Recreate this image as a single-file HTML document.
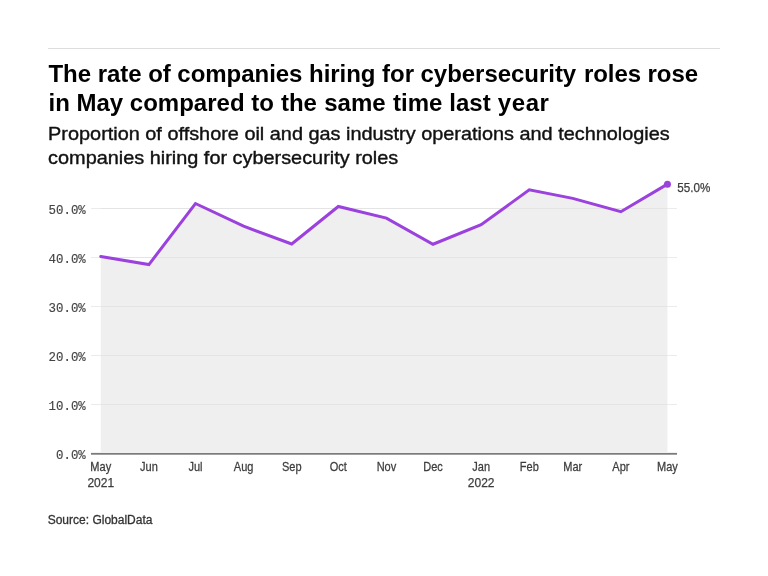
<!DOCTYPE html>
<html><head><meta charset="utf-8"><title>Chart</title>
<style>
html,body{margin:0;padding:0;background:#fff;}
svg{display:block;will-change:transform;}
text{font-family:"Liberation Sans",sans-serif;}
.title{font-weight:bold;font-size:24px;fill:#000;}
.sub{font-size:18px;fill:#111;stroke:#111;stroke-width:0.38px;}
.mono{font-family:"Liberation Mono",monospace;font-size:12.4px;fill:#444;stroke:#444;stroke-width:0.15px;}
.tick{font-size:12px;fill:#3d3d3d;stroke:#3d3d3d;stroke-width:0.25px;}
.src{font-size:12px;fill:#333;stroke:#333;stroke-width:0.3px;}
</style></head><body>
<svg width="768" height="576" viewBox="0 0 768 576">
<rect width="768" height="576" fill="#fff"/>
<rect x="48" y="48" width="672" height="1" fill="#dddddd"/>
<text x="48.5" y="82.3" class="title" style="letter-spacing:-0.04px">The rate of companies hiring for cybersecurity <tspan dx="1.2">roles</tspan> <tspan dx="-0.3">rose</tspan></text>
<text x="48.5" y="111.3" class="title">in May compared to <tspan dx="0.4">the</tspan> <tspan dx="0.6">same</tspan> <tspan dx="0.8">time</tspan> <tspan dx="0.2">last</tspan> <tspan dx="0.4" style="letter-spacing:0.6px">year</tspan></text>
<text transform="translate(48.1,139.8) scale(1.105,1)" class="sub">Proportion of offshore oil and gas industry operations and technologies</text>
<text transform="translate(48.1,164.4) scale(1.105,1)" class="sub">companies hiring for cybersecurity roles</text>
<rect x="91" y="208" width="586" height="1" fill="#ebebeb"/><rect x="91" y="257" width="586" height="1" fill="#ebebeb"/><rect x="91" y="306" width="586" height="1" fill="#ebebeb"/><rect x="91" y="355" width="586" height="1" fill="#ebebeb"/><rect x="91" y="404" width="586" height="1" fill="#ebebeb"/>
<path d="M100.75,452 L100.75,256.40 L148.88,264.60 L195.46,203.50 L243.59,226.20 L291.72,244.00 L338.30,206.50 L386.43,218.10 L433.01,244.25 L481.14,224.60 L529.27,189.90 L572.74,198.40 L620.87,211.75 L667.45,184.15 L667.45,452 Z" fill="#efefef"/>
<rect x="100.75" y="208" width="566.70" height="1" fill="#e4e4e4"/><rect x="100.75" y="257" width="566.70" height="1" fill="#e4e4e4"/><rect x="100.75" y="306" width="566.70" height="1" fill="#e4e4e4"/><rect x="100.75" y="355" width="566.70" height="1" fill="#e4e4e4"/><rect x="100.75" y="404" width="566.70" height="1" fill="#e4e4e4"/>
<rect x="91" y="452.9" width="586" height="1.8" fill="#7a7a7a"/>
<polyline points="100.75,256.40 148.88,264.60 195.46,203.50 243.59,226.20 291.72,244.00 338.30,206.50 386.43,218.10 433.01,244.25 481.14,224.60 529.27,189.90 572.74,198.40 620.87,211.75 667.45,184.15" fill="none" stroke="#9b41dd" stroke-width="3" stroke-linejoin="miter" stroke-linecap="round"/>
<circle cx="667.45" cy="184.15" r="3.5" fill="#9b41dd"/>
<text x="677.3" y="192" class="tick" textLength="33" lengthAdjust="spacingAndGlyphs">55.0%</text>
<text x="85.8" y="213.6" text-anchor="end" class="mono">50.0%</text><text x="85.8" y="262.6" text-anchor="end" class="mono">40.0%</text><text x="85.8" y="311.6" text-anchor="end" class="mono">30.0%</text><text x="85.8" y="360.6" text-anchor="end" class="mono">20.0%</text><text x="85.8" y="409.6" text-anchor="end" class="mono">10.0%</text><text x="85.8" y="458.6" text-anchor="end" class="mono">0.0%</text>
<text transform="translate(100.75,471.2) scale(0.92,1)" text-anchor="middle" class="tick">May</text><text transform="translate(148.88,471.2) scale(0.92,1)" text-anchor="middle" class="tick">Jun</text><text transform="translate(195.46,471.2) scale(0.92,1)" text-anchor="middle" class="tick">Jul</text><text transform="translate(243.59,471.2) scale(0.92,1)" text-anchor="middle" class="tick">Aug</text><text transform="translate(291.72,471.2) scale(0.92,1)" text-anchor="middle" class="tick">Sep</text><text transform="translate(338.30,471.2) scale(0.92,1)" text-anchor="middle" class="tick">Oct</text><text transform="translate(386.43,471.2) scale(0.92,1)" text-anchor="middle" class="tick">Nov</text><text transform="translate(433.01,471.2) scale(0.92,1)" text-anchor="middle" class="tick">Dec</text><text transform="translate(481.14,471.2) scale(0.92,1)" text-anchor="middle" class="tick">Jan</text><text transform="translate(529.27,471.2) scale(0.92,1)" text-anchor="middle" class="tick">Feb</text><text transform="translate(572.74,471.2) scale(0.92,1)" text-anchor="middle" class="tick">Mar</text><text transform="translate(620.87,471.2) scale(0.92,1)" text-anchor="middle" class="tick">Apr</text><text transform="translate(667.45,471.2) scale(0.92,1)" text-anchor="middle" class="tick">May</text><text x="100.75" y="486.6" text-anchor="middle" class="tick">2021</text><text x="481.14" y="486.6" text-anchor="middle" class="tick">2022</text>
<text x="47.7" y="524.3" class="src">Source: GlobalData</text>
</svg>
</body></html>
